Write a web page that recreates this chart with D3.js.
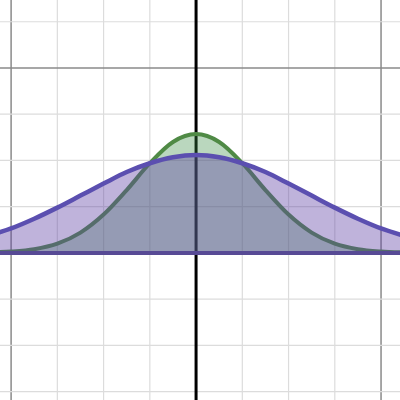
<!DOCTYPE html>
<html><head><meta charset="utf-8">
<script src="https://cdn.jsdelivr.net/npm/d3@7"></script>
<style>body{margin:0;background:#fff}</style>
</head><body>
<div id="chart"></div>
<script>
const xs = [-4.5,-4,-3.5,-3,-2.5,-2,-1.5,-1,-0.5,0,0.5,1,1.5,2,2.5,3,3.5,4,4.5];
const greenY = [0.01,0.03,0.08,0.20,0.44,0.83,1.36,1.94,2.40,2.57,2.40,1.94,1.36,0.83,0.44,0.20,0.08,0.03,0.01];
const purpleY = [0.37,0.53,0.74,0.98,1.24,1.50,1.75,1.94,2.07,2.12,2.07,1.94,1.75,1.50,1.24,0.98,0.74,0.53,0.37];
const gridX = d3.range(-5, 6);
const gridY = d3.range(-4, 7);

const width = 400, height = 400;
const x = d3.scaleLinear().domain([-4.24, 4.41]).range([0, width]);
const y = d3.scaleLinear().domain([5.47, -3.18]).range([0, height]);

const svg = d3.select("#chart").append("svg")
  .attr("width", width).attr("height", height);

svg.append("g").selectAll("line").data(gridX).join("line")
  .attr("x1", d => x(d)).attr("x2", d => x(d)).attr("y1", 0).attr("y2", height)
  .attr("stroke", d => d % 4 === 0 ? "#8a8a8a" : "#dcdcdc")
  .attr("stroke-width", d => d % 4 === 0 ? 1.5 : 1.2);
svg.append("g").selectAll("line").data(gridY).join("line")
  .attr("y1", d => y(d)).attr("y2", d => y(d)).attr("x1", 0).attr("x2", width)
  .attr("stroke", d => d % 4 === 0 ? "#8a8a8a" : "#dcdcdc")
  .attr("stroke-width", d => d % 4 === 0 ? 1.5 : 1.2);

svg.append("line").attr("x1", x(0)).attr("x2", x(0)).attr("y1", 0).attr("y2", height)
  .attr("stroke", "#000").attr("stroke-width", 3);
svg.append("line").attr("x1", 0).attr("x2", width).attr("y1", y(0)).attr("y2", y(0))
  .attr("stroke", "#000").attr("stroke-width", 3);

const area = vals => d3.area().curve(d3.curveMonotoneX)
  .x((d, i) => x(xs[i])).y0(y(0)).y1(d => y(d))(vals);
const line = vals => d3.line().curve(d3.curveMonotoneX)
  .x((d, i) => x(xs[i])).y(d => y(d))(vals);

svg.append("path").attr("d", area(greenY)).attr("fill", "#388c46").attr("fill-opacity", 0.35);
svg.append("path").attr("d", line(greenY)).attr("fill", "none")
  .attr("stroke", "#4f8a45").attr("stroke-width", 4);
svg.append("path").attr("d", area(purpleY)).attr("fill", "#6042a6").attr("fill-opacity", 0.4);
svg.append("path").attr("d", line(purpleY)).attr("fill", "none")
  .attr("stroke", "#5b4fb0").attr("stroke-width", 4.5);
svg.append("line").attr("x1", 0).attr("x2", width).attr("y1", y(0)).attr("y2", y(0))
  .attr("stroke", "#574a95").attr("stroke-width", 4);
</script>
</body></html>
